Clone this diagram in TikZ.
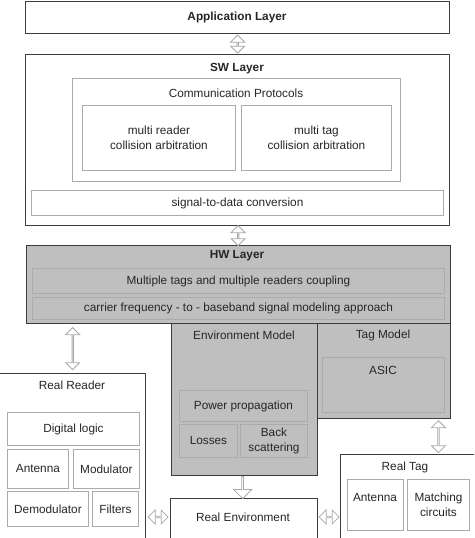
\documentclass[tikz,border=0pt]{standalone}
\usepackage{fontspec}
\setmainfont{Liberation Sans}
\usetikzlibrary{shapes.arrows,calc}
\definecolor{frame}{HTML}{3C3C3C}
\definecolor{inner}{HTML}{ABABAB}
\definecolor{shade}{HTML}{BFBFBF}
\definecolor{arrowc}{HTML}{A8A8A8}
\begin{document}
\begin{tikzpicture}[x=1pt,y=-1pt,
  every node/.style={font=\fontsize{11.8}{14.5}\selectfont, text=black!85, inner sep=0pt},
  outerbox/.style={draw=frame, line width=1.3pt, anchor=north west, rectangle},
  innerbox/.style={draw=inner, line width=0.9pt, anchor=north west, rectangle},
  txt/.style={align=center},
  btxt/.style={align=center, font=\fontsize{11.8}{14.5}\selectfont\bfseries},
  darrow/.style={double arrow, draw=arrowc, fill=white, line width=0.8pt, minimum width=14pt,
     double arrow head extend=3.5pt, double arrow head indent=0pt, inner sep=0pt},
  sarrow/.style={single arrow, draw=arrowc, fill=white, line width=0.8pt, minimum width=16pt,
     single arrow head extend=4pt, inner sep=0pt},
]
\useasboundingbox (0,0) rectangle (474,538);
\clip (0,0) rectangle (474,538);
% boxes: name at (x,y) size w x h
\newcommand{\bx}[6]{\node[#1, minimum width=#4pt, minimum height=#5pt] (#2) at (#3) {}; }
% Application layer
\bx{outerbox}{app}{25,1}{424}{32}{}
\node[btxt] (apptxt) at (237,17) {Application Layer};
% SW layer
\bx{outerbox}{sw}{25,54}{424}{171}{}
\node[btxt] (swtxt) at (237,69) {SW Layer};
\bx{innerbox}{comm}{72,78}{328}{103}{}
\node[txt] (commtxt) at (236,93) {Communication Protocols};
\bx{innerbox}{mra}{82,105}{153}{65}{}
\node[txt] (mratxt) at (mra.center) {multi reader\\collision arbitration};
\bx{innerbox}{mta}{241,105}{150}{65}{}
\node[txt] (mtatxt) at (mta.center) {multi tag\\collision arbitration};
\bx{innerbox}{s2d}{31,190}{412}{25}{}
\node[txt] (s2dtxt) at (s2d.center) {signal-to-data conversion};
% HW layer
\bx{outerbox, fill=shade}{hw}{26,245}{424}{78}{}
\node[btxt] (hwtxt) at (237,256) {HW Layer};
\bx{innerbox, fill=shade}{coup}{32,268}{412}{25}{}
\node[txt] (couptxt) at (coup.center) {Multiple tags and multiple readers coupling};
\bx{innerbox, fill=shade}{carr}{32,297}{412}{22}{}
\node[txt] (carrtxt) at (carr.center) {carrier frequency - to - baseband signal modeling approach};
% Environment model
\bx{outerbox, fill=shade}{env}{171,323}{146}{152}{}
\node[txt] (envtxt) at (244,335) {Environment Model};
\bx{innerbox, fill=shade}{pow}{179,390}{128}{31}{}
\node[txt] (powtxt) at (pow.center) {Power propagation};
\bx{innerbox, fill=shade}{loss}{179,424}{58}{33}{}
\node[txt] (losstxt) at (loss.center) {Losses};
\bx{innerbox, fill=shade}{back}{240,424}{67}{33}{}
\node[txt] (backtxt) at (back.center) {Back\\scattering};
% Tag model
\bx{outerbox, fill=shade}{tagm}{317,323}{133}{95}{}
\node[txt] (tagmtxt) at (383,335) {Tag Model};
\bx{innerbox, fill=shade}{asic}{322,357}{122}{55}{}
\node[txt] (asictxt) at (383,370) {ASIC};
% Real reader
\bx{outerbox}{rr}{-1,373}{146}{175}{}
\node[txt] (rrtxt) at (72,385) {Real Reader};
\bx{innerbox}{dl}{7,412}{132}{33}{}
\node[txt] (dltxt) at (dl.center) {Digital logic};
\bx{innerbox}{ant}{7,449}{61}{39}{}
\node[txt] (anttxt) at (ant.center) {Antenna};
\bx{innerbox}{mod}{73,449}{66}{39}{}
\node[txt] (modtxt) at (mod.center) {Modulator};
\bx{innerbox}{dem}{7,491}{81}{35}{}
\node[txt] (demtxt) at (dem.center) {Demodulator};
\bx{innerbox}{fil}{92,491}{46}{35}{}
\node[txt] (filtxt) at (fil.center) {Filters};
% Real environment
\bx{outerbox}{renv}{170,498}{147}{50}{}
\node[txt] (renvtxt) at (243,517) {Real Environment};
% Real tag
\bx{outerbox}{rtag}{340,454}{140}{94}{}
\node[txt] (rtagtxt) at (405,467) {Real Tag};
\bx{innerbox}{tant}{347,479}{56}{51}{}
\node[txt] (tanttxt) at (375,497) {Antenna};
\bx{innerbox}{match}{407,479}{62}{51}{}
\node[txt] (matchtxt) at (match.center) {Matching\\circuits};
% arrows
\node[darrow, rotate=90, minimum height=18pt] (a1) at ($(app.south)!0.5!(sw.north)$) {};
\node[darrow, rotate=90, minimum height=20pt] (a2) at ($(sw.south)!0.5!(hw.north)$) {};
\node[darrow, rotate=90, minimum height=42pt] (a3) at ($(hw.south west -| rr.north)!0.5!(rr.north)+(0,0)$) {};
\node[sarrow, rotate=-90, minimum height=22pt, minimum width=18pt] (a4) at ($(env.south)!0.5!(env.south |- renv.north)+(-2,0)$) {};
\node[darrow, minimum height=20pt] (a5) at ($(rr.east |- renvtxt)!0.5!(renv.west |- renvtxt)$) {};
\node[darrow, minimum height=20pt] (a6) at ($(renv.east |- renvtxt)!0.5!(rtag.west |- renvtxt)$) {};
\node[darrow, rotate=90, minimum height=32pt] (a7) at ($(tagm.south -| match.north)!0.5!(match.north |- rtag.north)$) {};
\end{tikzpicture}
\end{document}
